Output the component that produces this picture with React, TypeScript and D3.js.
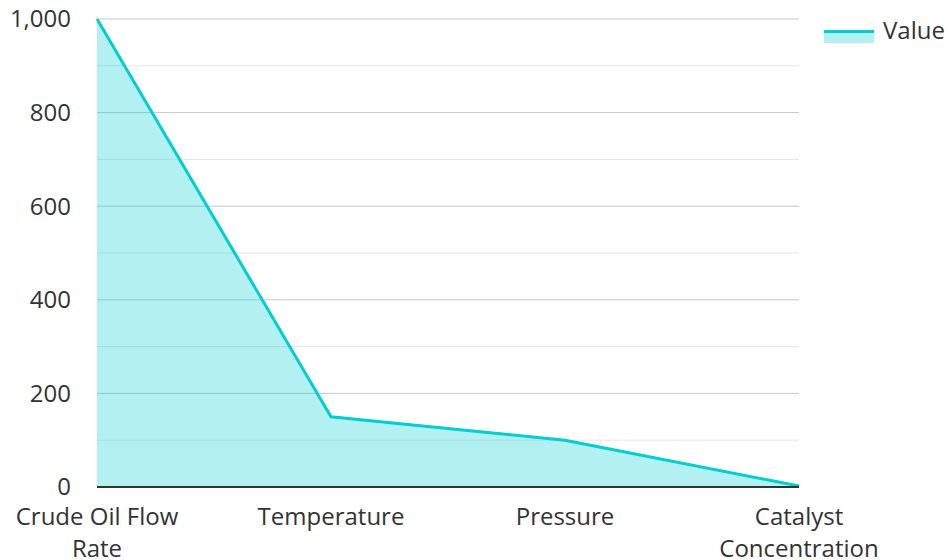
import React, { useEffect, useRef } from "react";
import * as d3 from "d3";

const categories = ["Crude Oil Flow Rate", "Temperature", "Pressure", "Catalyst Concentration"];
const values = [1000, 150, 100, 2];
const yTicks = [0, 200, 400, 600, 800, 1000];
const yMinorTicks = [100, 300, 500, 700, 900];
const seriesName = "Value";

const W = 949;
const H = 560;
const M = { left: 97, right: 150, top: 19, bottom: 73 };
const FONT = "'Open Sans', sans-serif";
const FS = 24;
const LINE = "#00CED1";
const FILL = "rgba(0,206,209,0.3)";

export default function App() {
  const ref = useRef<SVGSVGElement>(null);
  useEffect(() => {
    const svg = d3.select(ref.current);
    svg.selectAll("*").remove();
    const x = d3.scalePoint<string>().domain(categories).range([M.left, W - M.right]);
    const y = d3.scaleLinear().domain([0, 1000]).range([H - M.bottom, M.top]);

    const g = svg.append("g");
    g.selectAll("line.minor").data(yMinorTicks).join("line")
      .attr("x1", M.left).attr("x2", W - M.right)
      .attr("y1", d => y(d)).attr("y2", d => y(d))
      .attr("stroke", "#e6e6e6").attr("stroke-width", 1);
    g.selectAll("line.major").data(yTicks.filter(d => d > 0)).join("line")
      .attr("x1", M.left).attr("x2", W - M.right)
      .attr("y1", d => y(d)).attr("y2", d => y(d))
      .attr("stroke", "#c8c8c8").attr("stroke-width", 1);

    const data = categories.map((c, i) => ({ c, v: values[i] }));
    const area = d3.area<{ c: string; v: number }>()
      .x(d => x(d.c)!).y0(y(0)).y1(d => y(d.v));
    const line = d3.line<{ c: string; v: number }>()
      .x(d => x(d.c)!).y(d => y(d.v));
    g.append("path").attr("d", area(data)!).attr("fill", FILL);
    g.append("path").attr("d", line(data)!).attr("fill", "none").attr("stroke", LINE).attr("stroke-width", 3);

    g.append("line").attr("x1", M.left).attr("x2", W - M.right)
      .attr("y1", y(0)).attr("y2", y(0)).attr("stroke", "#333").attr("stroke-width", 2);

    g.selectAll("text.yt").data(yTicks).join("text")
      .attr("x", 71).attr("y", d => y(d)).attr("dy", "0.35em")
      .attr("text-anchor", "end").attr("font-family", FONT).attr("font-size", FS)
      .attr("fill", "#333").text(d => d3.format(",")(d));

    const step = x.step();
    const ctx = document.createElement("canvas").getContext("2d")!;
    ctx.font = `${FS}px ${FONT}`;
    categories.forEach(c => {
      const words = c.split(" ");
      const lines: string[] = [];
      let cur = "";
      words.forEach(w => {
        const t = cur ? cur + " " + w : w;
        if (ctx.measureText(t).width > step * 0.82 && cur) { lines.push(cur); cur = w; } else cur = t;
      });
      lines.push(cur);
      const t = g.append("text").attr("text-anchor", "middle").attr("font-family", FONT)
        .attr("font-size", FS).attr("fill", "#333");
      lines.forEach((l, i) => {
        t.append("tspan").attr("x", x(c)!).attr("y", y(0) + 38 + i * 32).text(l);
      });
    });

    const lg = g.append("g");
    lg.append("rect").attr("x", 824).attr("y", 33).attr("width", 50).attr("height", 10).attr("fill", FILL);
    lg.append("line").attr("x1", 824).attr("x2", 874).attr("y1", 31.5).attr("y2", 31.5)
      .attr("stroke", LINE).attr("stroke-width", 3);
    lg.append("text").attr("x", 883).attr("y", 31).attr("dy", "0.35em")
      .attr("font-family", FONT).attr("font-size", FS).attr("fill", "#333").text(seriesName);
  }, []);
  return <svg ref={ref} width={W} height={H} style={{ display: "block", position: "absolute", left: 0, top: 0 }} />;
}
